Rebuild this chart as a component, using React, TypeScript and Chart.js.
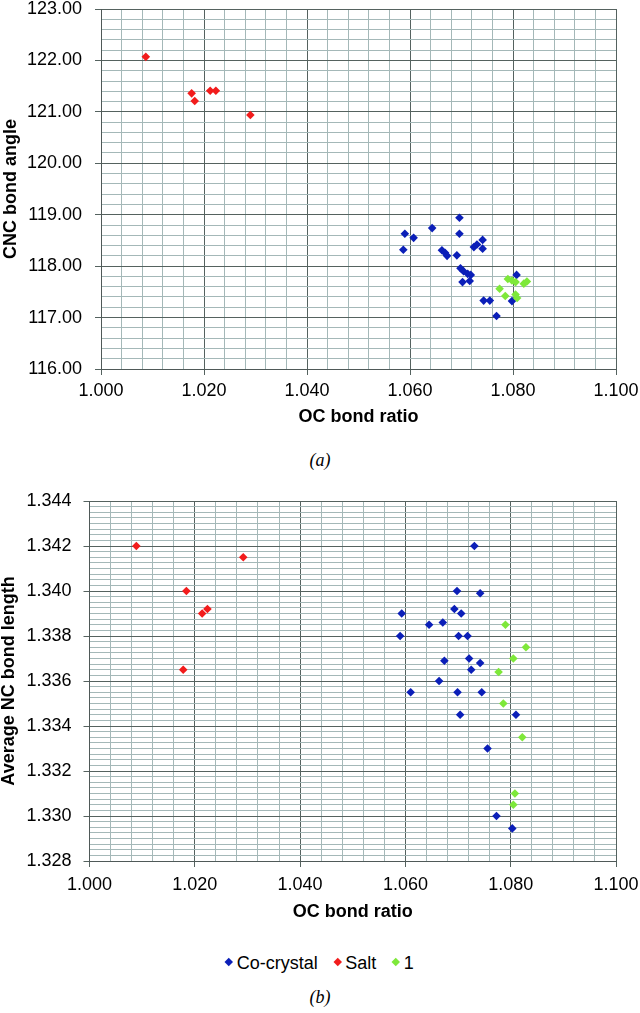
import React, { useEffect, useRef } from "react";
import { Chart, registerables } from "chart.js";

Chart.register(...registerables);

// ---------- series names & colours ----------
const SERIES_NAMES = ["Co-crystal", "Salt", "1"];
const SERIES_COLORS = ["#0b1fb8", "#f21c1c", "#7ee83a"];

// ---------- chart (a): OC bond ratio vs CNC bond angle ----------
const coCrystalAX = [1.0696, 1.059, 1.0607, 1.0643, 1.0696, 1.0587, 1.0741, 1.0724, 1.073, 1.0741, 1.0662, 1.0668, 1.0672, 1.0691, 1.0698, 1.0704, 1.0712, 1.0718, 1.0702, 1.0716, 1.0743, 1.0755, 1.0768, 1.0807, 1.0798];
const coCrystalAY = [118.94, 118.63, 118.55, 118.74, 118.63, 118.32, 118.51, 118.37, 118.42, 118.34, 118.31, 118.26, 118.2, 118.21, 117.96, 117.9, 117.85, 117.83, 117.69, 117.71, 117.33, 117.33, 117.03, 117.83, 117.32];
const saltAX = [1.0087, 1.0176, 1.0182, 1.0212, 1.0223, 1.029];
const saltAY = [122.07, 121.36, 121.21, 121.41, 121.41, 120.94];
const compound1AX = [1.0774, 1.0785, 1.079, 1.0798, 1.0805, 1.0805, 1.0808, 1.0821, 1.0827];
const compound1AY = [117.56, 117.42, 117.75, 117.72, 117.69, 117.45, 117.38, 117.66, 117.7];

// ---------- chart (b): OC bond ratio vs average NC bond length ----------
const coCrystalBX = [1.0731, 1.0698, 1.0742, 1.0593, 1.0693, 1.0706, 1.0645, 1.0671, 1.059, 1.0701, 1.0718, 1.0674, 1.0721, 1.0742, 1.0725, 1.0664, 1.061, 1.0699, 1.0745, 1.0704, 1.081, 1.0756, 1.0773, 1.0803];
const coCrystalBY = [1.342, 1.34, 1.3399, 1.339, 1.3392, 1.339, 1.3385, 1.3386, 1.338, 1.338, 1.338, 1.3369, 1.337, 1.3368, 1.3365, 1.336, 1.3355, 1.3355, 1.3355, 1.3345, 1.3345, 1.333, 1.33, 1.32945];
const saltBX = [1.0089, 1.0292, 1.0184, 1.0214, 1.0224, 1.0178];
const saltBY = [1.342, 1.3415, 1.34, 1.339, 1.3392, 1.3365];
const compound1BX = [1.079, 1.0829, 1.0805, 1.0777, 1.0786, 1.0822, 1.0808, 1.0805];
const compound1BY = [1.3385, 1.3375, 1.337, 1.3364, 1.335, 1.3335, 1.331, 1.3305];

// ---------- axes ----------
const X_MIN = 1.0;
const X_MAX = 1.1;
const X_MINOR = 0.004;
const X_MAJOR = 0.02;
const X_TITLE = "OC bond ratio";

const YA_MIN = 116;
const YA_MAX = 123;
const YA_MINOR = 0.2;
const YA_MAJOR = 1;
const YA_TITLE = "CNC bond angle";

const YB_MIN = 1.328;
const YB_MAX = 1.344;
const YB_MINOR = 0.00025;
const YB_MAJOR = 0.002;
const YB_TITLE = "Average NC bond length";

const FONT = "'Liberation Sans', Arial, Helvetica, sans-serif";
const MAJOR_COLOR = "#55625f";
const MINOR_COLOR = "#a4b8b8";
const AXIS_COLOR = "#4f5958";

function isMajor(v: number, step: number) {
  const r = v / step;
  return Math.abs(r - Math.round(r)) < 1e-6;
}

function pts(xs: number[], ys: number[]) {
  return xs.map((x, i) => ({ x, y: ys[i] }));
}

function ds(label: string, color: string, data: any[], order: number) {
  return {
    label,
    data,
    backgroundColor: color,
    borderColor: color,
    borderWidth: 0,
    pointStyle: "rectRot",
    pointRadius: 4.3,
    pointHoverRadius: 4.3,
    showLine: false,
    order,
  };
}

type P = {
  yMin: number; yMax: number; yMinor: number; yMajor: number; yDec: number; yTitle: string;
  yAxisW: number; xAxisH: number; padTop: number; xTickPad: number; yTickPad: number;
  yTitleLH: number;
};

function buildOptions(p: P) {
  const gridColor = (step: number) => (ctx: any) =>
    ctx.tick && isMajor(ctx.tick.value, step) ? MAJOR_COLOR : MINOR_COLOR;
  const tickColor = (step: number) => (ctx: any) =>
    ctx.tick && isMajor(ctx.tick.value, step) ? MAJOR_COLOR : "rgba(0,0,0,0)";
  return {
    responsive: false,
    maintainAspectRatio: false,
    animation: false,
    events: [],
    layout: { padding: { top: p.padTop, right: 24, bottom: 0, left: 0 } },
    plugins: { legend: { display: false }, tooltip: { enabled: false } },
    scales: {
      x: {
        type: "linear",
        position: "bottom",
        min: X_MIN,
        max: X_MAX,
        afterFit: (s: any) => { s.height = p.xAxisH; s.paddingLeft = 0; s.paddingRight = 0; },
        ticks: {
          stepSize: X_MINOR,
          autoSkip: false,
          maxRotation: 0,
          minRotation: 0,
          padding: p.xTickPad,
          color: "#000",
          font: { family: FONT, size: 18 },
          callback: (v: any) => (isMajor(Number(v), X_MAJOR) ? Number(v).toFixed(3) : ""),
        },
        grid: { color: gridColor(X_MAJOR), tickColor: tickColor(X_MAJOR), tickLength: 6, lineWidth: 1 },
        border: { color: AXIS_COLOR, width: 1 },
        title: {
          display: true, text: X_TITLE, color: "#000",
          font: { family: FONT, size: 18, weight: "bold" },
          padding: { top: 0, bottom: 2 },
        },
      },
      y: {
        type: "linear",
        position: "left",
        min: p.yMin,
        max: p.yMax,
        afterFit: (s: any) => { s.width = p.yAxisW; s.paddingTop = 0; s.paddingBottom = 0; },
        ticks: {
          stepSize: p.yMinor,
          autoSkip: false,
          padding: p.yTickPad,
          color: "#000",
          font: { family: FONT, size: 18 },
          callback: (v: any) => (isMajor(Number(v), p.yMajor) ? Number(v).toFixed(p.yDec) : ""),
        },
        grid: { color: gridColor(p.yMajor), tickColor: tickColor(p.yMajor), tickLength: 6, lineWidth: 1 },
        border: { color: AXIS_COLOR, width: 1 },
        title: {
          display: true, text: p.yTitle, color: "#000",
          font: { family: FONT, size: 18, weight: "bold", lineHeight: p.yTitleLH },
          padding: { top: 0, bottom: 0 },
        },
      },
    },
  };
}

function ScatterCanvas(props: { width: number; height: number; datasets: any[]; p: P }) {
  const ref = useRef<HTMLCanvasElement | null>(null);
  useEffect(() => {
    if (!ref.current) return;
    const chart = new Chart(ref.current, {
      type: "scatter",
      data: { datasets: props.datasets },
      options: buildOptions(props.p) as any,
    } as any);
    return () => chart.destroy();
  }, []);
  return <canvas ref={ref} width={props.width} height={props.height} style={{ width: props.width, height: props.height, display: "block" }} />;
}

function Diamond({ color }: { color: string }) {
  return (
    <span
      style={{
        display: "inline-block",
        width: 5.5,
        height: 5.5,
        background: color,
        transform: "rotate(45deg)",
        marginRight: 5,
        verticalAlign: "middle",
        position: "relative",
        top: -1,
      }}
    />
  );
}

export default function App() {
  const datasetsA = [
    ds(SERIES_NAMES[0], SERIES_COLORS[0], pts(coCrystalAX, coCrystalAY), 3),
    ds(SERIES_NAMES[1], SERIES_COLORS[1], pts(saltAX, saltAY), 2),
    ds(SERIES_NAMES[2], SERIES_COLORS[2], pts(compound1AX, compound1AY), 1),
  ];
  const datasetsB = [
    ds(SERIES_NAMES[0], SERIES_COLORS[0], pts(coCrystalBX, coCrystalBY), 3),
    ds(SERIES_NAMES[1], SERIES_COLORS[1], pts(saltBX, saltBY), 2),
    ds(SERIES_NAMES[2], SERIES_COLORS[2], pts(compound1BX, compound1BY), 1),
  ];
  const pA: P = {
    yMin: YA_MIN, yMax: YA_MAX, yMinor: YA_MINOR, yMajor: YA_MAJOR, yDec: 2, yTitle: YA_TITLE,
    yAxisW: 101, xAxisH: 61, padTop: 9, xTickPad: 5, yTickPad: 13, yTitleLH: 1.2,
  };
  const pB: P = {
    yMin: YB_MIN, yMax: YB_MAX, yMinor: YB_MINOR, yMajor: YB_MAJOR, yDec: 3, yTitle: YB_TITLE,
    yAxisW: 89.5, xAxisH: 64, padTop: 31, xTickPad: 7, yTickPad: 12, yTitleLH: 1.0,
  };
  const caption: React.CSSProperties = {
    position: "absolute", left: 0, width: 640, textAlign: "center",
    fontFamily: "'Liberation Serif', 'Times New Roman', serif", fontStyle: "italic",
    fontSize: 18, lineHeight: "22px", color: "#000",
  };
  return (
    <div style={{ position: "absolute", left: 0, top: 0, width: 640, height: 1013, background: "#fff", overflow: "hidden" }}>
      <div style={{ position: "absolute", left: 0, top: 0 }}>
        <ScatterCanvas width={640} height={430} datasets={datasetsA} p={pA} />
      </div>
      <div style={{ ...caption, top: 449 }}>(a)</div>
      <div style={{ position: "absolute", left: 0, top: 470 }}>
        <ScatterCanvas width={640} height={455} datasets={datasetsB} p={pB} />
      </div>
      <div
        style={{
          position: "absolute", left: 0, top: 952, width: 640, height: 22,
          display: "flex", justifyContent: "center", alignItems: "center",
          fontFamily: FONT, fontSize: 18, color: "#000", gap: 17,
        }}
      >
        {SERIES_NAMES.map((n, i) => (
          <span key={n} style={{ display: "inline-flex", alignItems: "center", whiteSpace: "nowrap" }}>
            <Diamond color={SERIES_COLORS[i]} />
            {n}
          </span>
        ))}
      </div>
      <div style={{ ...caption, top: 986 }}>(b)</div>
    </div>
  );
}
